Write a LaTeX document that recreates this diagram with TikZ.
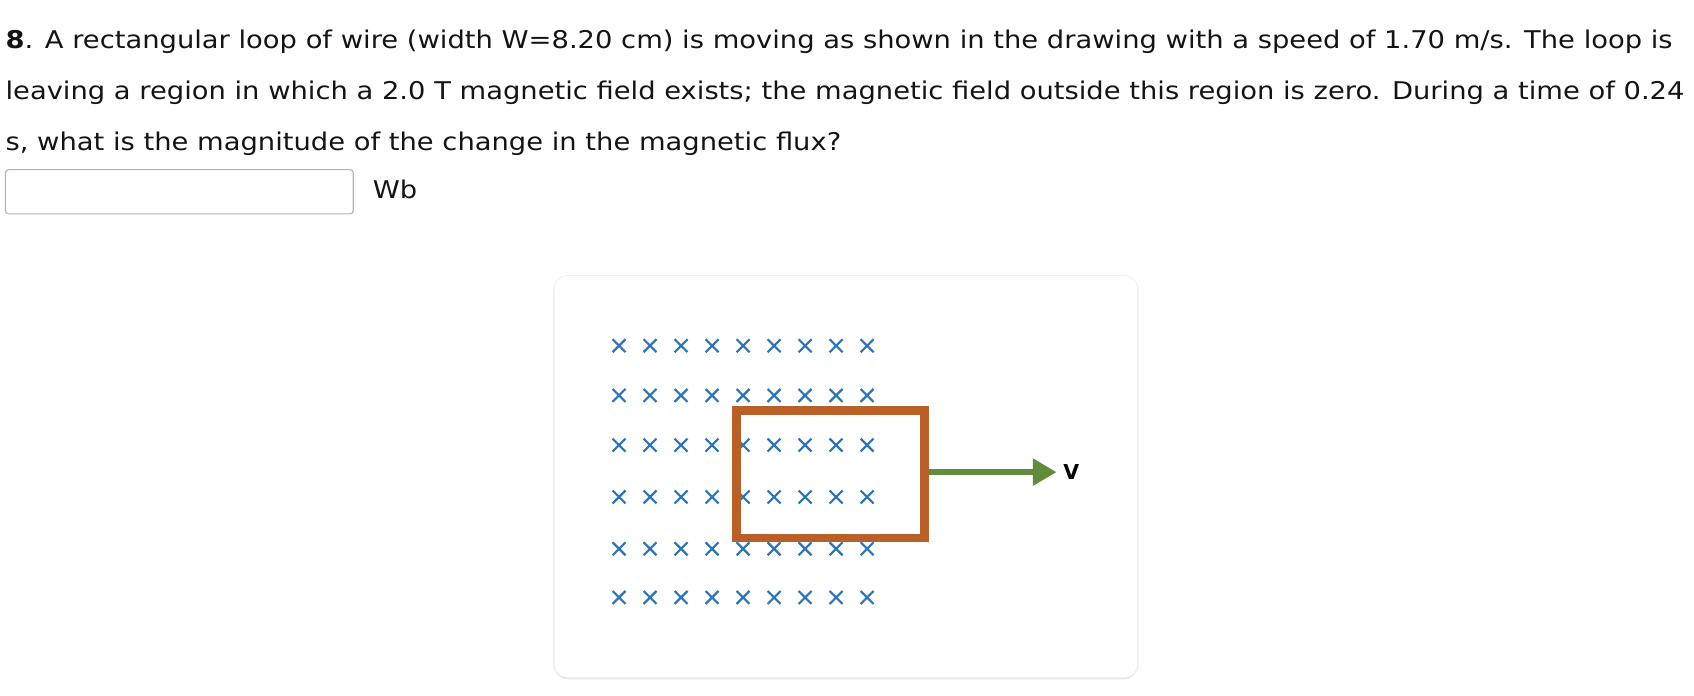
\documentclass[tikz,border=0pt]{standalone}
\usepackage{fontspec}
\setmainfont{DejaVu Sans}
\newfontfamily\qfont[FakeStretch=1.12]{DejaVu Sans}
\usetikzlibrary{arrows.meta,shadows}
\definecolor{crossblue}{RGB}{46,117,182}
\definecolor{loopbrown}{RGB}{184,96,40}
\definecolor{arrowgreen}{RGB}{98,140,60}
\definecolor{txt}{RGB}{20,20,20}
\tikzset{
  qline/.style={anchor=base west, inner sep=0pt, font=\qfont\fontsize{22.6}{26}\selectfont, text=txt},
  xmark/.style={crossblue, line width=2pt},
}
\begin{document}
\begin{tikzpicture}[x=1pt,y=-1pt]
\useasboundingbox (0,0) rectangle (1568,644);
\node[qline] (l1) at (5,45) {\textbf{8}. A rectangular loop of wire (width W=8.20 cm) is moving as shown in the drawing with a speed of 1.70 m/s. The loop is};
\node[qline] (l2) at (5,92) {leaving a region in which a 2.0 T magnetic field exists; the magnetic field outside this region is zero. During a time of 0.24};
\node[qline] (l3) at (5,139) {s, what is the magnitude of the change in the magnetic flux?};
\draw[rounded corners=3pt, draw=black!30, line width=1pt] (5,157) rectangle (327,198);
\node[qline] (wb) at (345,184) {Wb};
\draw[rounded corners=13pt, draw=black!10, line width=1.5pt] (513,256) rectangle (1053,628);
\draw[rounded corners=12pt, draw=black!6, fill=white, line width=0.6pt] (513,255) rectangle (1053,627);
\foreach \r/\y in {1/320,2/366,3/412,4/460,5/508,6/553}{
  \foreach \c in {0,...,8}{
    \pgfmathsetmacro{\xx}{573+\c*28.7}
    \draw[xmark] (\xx-6,\y-6) -- (\xx+6,\y+6) (\xx-6,\y+6) -- (\xx+6,\y-6);
  }
}
\draw[loopbrown, line width=8pt] (682,380) rectangle (856,498);
\coordinate (a0) at (860,437);
\coordinate (a1) at (978,437);
\draw[arrowgreen, line width=6pt, -{Triangle[length=22pt,width=24pt]}] (a0) -- (a1);
\node[anchor=west, font=\bfseries\fontsize{19}{20}\selectfont, inner sep=0pt] (v) at (984,437) {V};
\end{tikzpicture}
\end{document}
